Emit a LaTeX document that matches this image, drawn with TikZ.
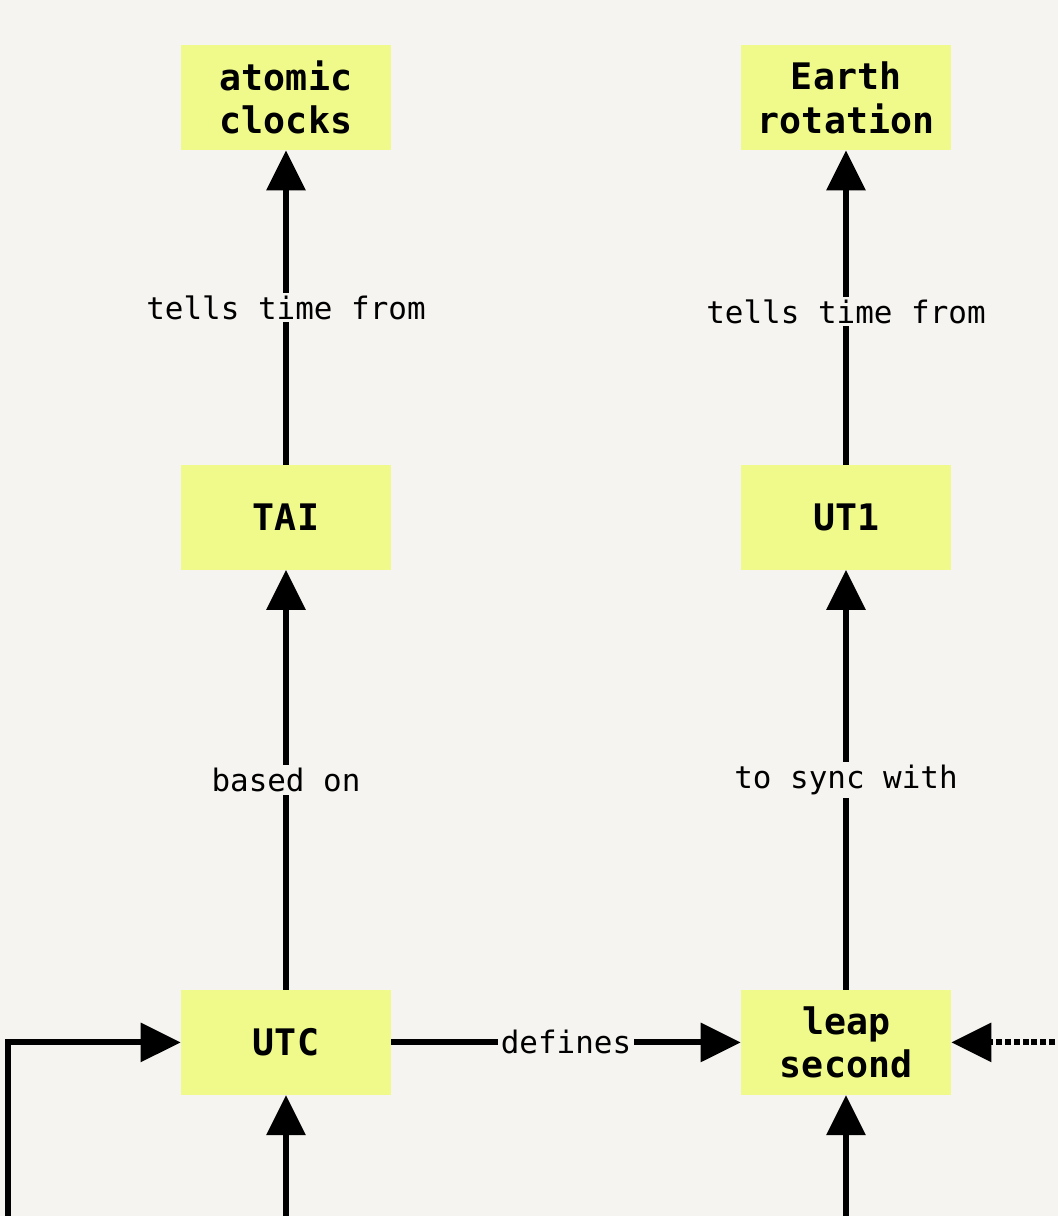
\documentclass[tikz,border=0pt]{standalone}
\usepackage{fontspec}
\setmonofont{DejaVu Sans Mono}
\usetikzlibrary{arrows.meta,positioning}
\definecolor{paper}{HTML}{F5F4F0}
\definecolor{boxfill}{HTML}{EFFA8A}
\tikzset{
  term/.style={fill=boxfill,minimum width=5.25cm,minimum height=2.62cm,align=center,
    font=\ttfamily\bfseries\fontsize{26}{31}\selectfont},
  link/.style={line width=4.3pt,-{Triangle[length=1cm,width=0.95cm]}},
  lbl/.style={fill=paper,font=\ttfamily\fontsize{22}{26}\selectfont,inner sep=2pt}
}
\begin{document}
\begin{tikzpicture}
\fill[paper] (0,0) rectangle (26.45,-30.4);
\useasboundingbox (0,0) rectangle (26.45,-30.4);

% Terms
\node[term] (atomic) at (7.15,-2.44) {atomic\\clocks};
\node[term] (earth) at (21.15,-2.44) {Earth\\rotation};
\node[term] (tai) at (7.15,-12.93) {TAI};
\node[term] (ut1) at (21.15,-12.93) {UT1};
\node[term] (utc) at (7.15,-26.06) {UTC};
\node[term] (leap) at (21.15,-26.06) {leap\\second};

% Free ends
\coordinate (utcin) at (7.15,-30.6);
\coordinate (leapin) at (21.15,-30.6);
\coordinate (corner) at (0.2,-26.06);
\coordinate (leftin) at (0.2,-30.6);
\coordinate (rightin) at (26.6,-26.06);

% Links
\draw[link] (tai) -- node[lbl] {tells time from} (atomic);
\draw[link] (ut1) -- node[lbl,yshift=-0.1cm] {tells time from} (earth);
\draw[link] (utc) -- node[lbl] {based on} (tai);
\draw[link] (leap) -- node[lbl] {to sync with} (ut1);
\draw[link] (utc) -- node[lbl] {defines} (leap);
\draw[link] (utcin) -- (utc);
\draw[link] (leapin) -- (leap);
\draw[link] (leftin) -- (corner) -- (utc);
\draw[link,dotted] (rightin) -- (leap);
\end{tikzpicture}
\end{document}
